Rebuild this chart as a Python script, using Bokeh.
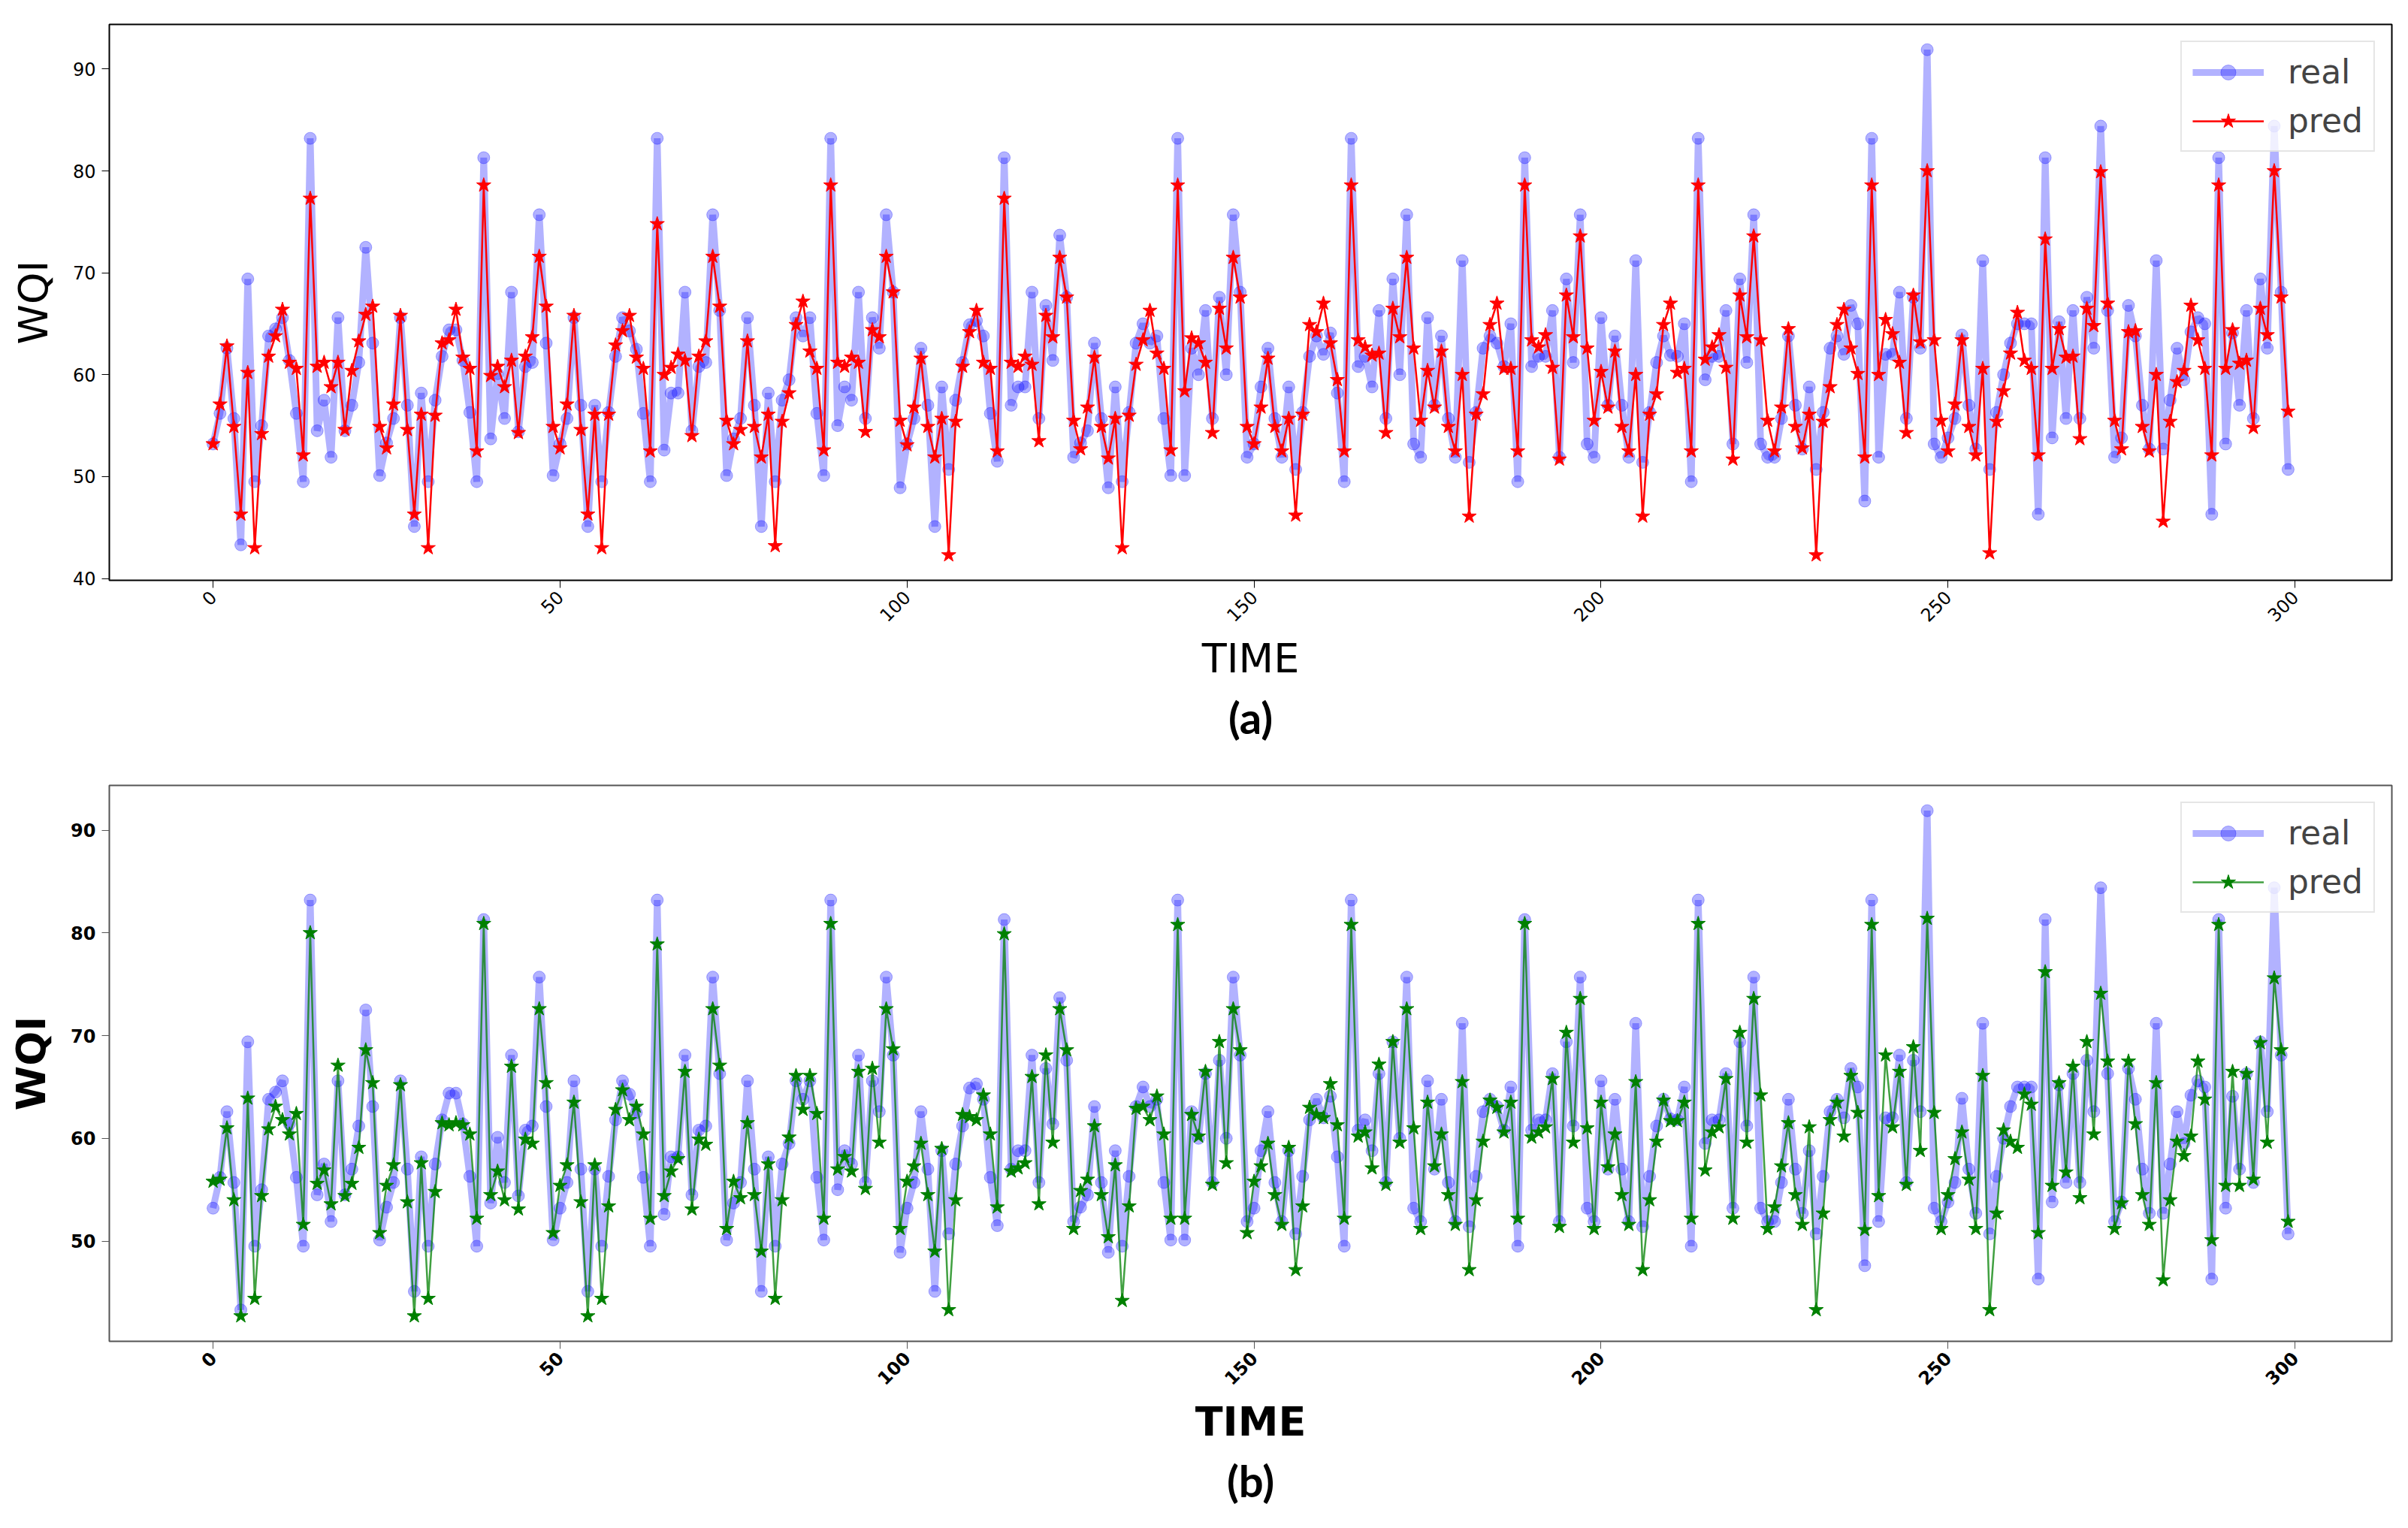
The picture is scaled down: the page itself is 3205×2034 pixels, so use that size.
import math
from bokeh.plotting import figure
from bokeh.layouts import column
from bokeh.models import Range1d, Title, Legend, LegendItem
from bokeh.embed import file_html
from bokeh.resources import INLINE

# data
time = list(range(300))
real = [53.2, 56.2, 62.6, 55.7, 43.3, 69.4, 49.5, 55.0, 63.8, 64.5, 65.6, 61.4, 56.2, 49.5, 83.2,
        54.5, 57.5, 51.9, 65.6, 54.5, 57.0, 61.2, 72.5, 63.1, 50.1, 53.3, 55.7, 65.6, 57.0, 45.1,
        58.2, 49.5, 57.5, 61.8, 64.4, 64.4, 61.4, 56.3, 49.5, 81.3, 53.7, 60.1, 55.7, 68.1, 54.4,
        60.8, 61.2, 75.7, 63.1, 50.1, 53.2, 55.7, 65.6, 57.0, 45.1, 57.0, 49.5, 56.3, 61.8, 65.6,
        64.3, 62.5, 56.2, 49.5, 83.2, 52.6, 58.2, 58.2, 68.1, 54.5, 60.8, 61.2, 75.7, 66.3, 50.1,
        53.7, 55.7, 65.6, 57.0, 45.1, 58.2, 49.5, 57.5, 59.5, 65.6, 63.8, 65.6, 56.2, 50.1, 83.2,
        55.0, 58.8, 57.5, 68.1, 55.7, 65.6, 62.6, 75.7, 68.1, 48.9, 53.2, 55.7, 62.6, 57.0, 45.1,
        58.8, 50.7, 57.5, 61.2, 64.9, 65.3, 63.8, 56.2, 51.5, 81.3, 57.0, 58.8, 58.8, 68.1, 55.7,
        66.8, 61.4, 73.7, 67.6, 51.9, 53.3, 54.5, 63.1, 55.7, 48.9, 58.8, 49.5, 56.3, 63.1, 65.0,
        63.1, 63.8, 55.7, 50.1, 83.2, 50.1, 62.6, 60.0, 66.3, 55.7, 67.6, 60.0, 75.7, 68.1, 51.9,
        53.2, 58.8, 62.6, 55.7, 51.9, 58.8, 50.7, 56.3, 61.8, 63.8, 62.0, 64.1, 58.2, 49.5, 83.2,
        60.8, 61.8, 58.8, 66.3, 55.7, 69.4, 60.0, 75.7, 53.2, 51.9, 65.6, 57.0, 63.8, 55.7, 51.9,
        71.2, 51.4, 56.3, 62.6, 63.8, 63.1, 60.8, 65.0, 49.5, 81.3, 60.8, 61.8, 61.8, 66.3, 51.9,
        69.4, 61.2, 75.7, 53.2, 51.9, 65.6, 57.0, 63.8, 57.0, 51.9, 71.2, 51.4, 56.3, 61.2, 63.8,
        61.9, 61.8, 65.0, 49.5, 83.2, 59.5, 61.8, 61.8, 66.3, 53.2, 69.4, 61.2, 75.7, 53.2, 51.9,
        51.9, 55.7, 63.8, 57.0, 52.7, 58.8, 50.7, 56.3, 62.6, 63.8, 62.0, 66.8, 65.0, 47.6, 83.2,
        51.9, 62.0, 62.0, 68.1, 55.7, 67.6, 62.6, 91.9, 53.2, 51.9, 53.8, 55.7, 63.9, 57.0, 52.7,
        71.2, 50.7, 56.3, 60.0, 63.1, 65.0, 65.0, 65.0, 46.3, 81.3, 53.8, 65.2, 55.7, 66.3, 55.7,
        67.6, 62.6, 84.4, 66.3, 51.9, 53.8, 66.8, 63.8, 57.0, 52.7, 71.2, 52.7, 57.5, 62.6, 59.5,
        64.2, 65.6, 65.0, 46.3, 81.3, 53.2, 64.1, 57.0, 66.3, 55.7, 69.4, 62.6, 84.4, 68.1, 50.7]
pred_a = [53.2, 57.1, 62.8, 54.9, 46.3, 60.2, 43.0, 54.2, 61.8, 63.8, 66.4, 61.2, 60.6, 52.1, 77.3,
          60.8, 61.2, 58.8, 61.2, 54.6, 60.4, 63.3, 65.9, 66.7, 54.9, 52.8, 57.1, 65.8, 54.6, 46.3,
          56.1, 43.0, 56.0, 63.1, 63.4, 66.4, 61.7, 60.6, 52.5, 78.6, 59.9, 60.8, 58.8, 61.4, 54.3,
          61.8, 63.7, 71.6, 66.7, 54.9, 52.8, 57.1, 65.8, 54.6, 46.3, 56.1, 43.0, 56.1, 62.9, 64.3,
          65.8, 61.7, 60.6, 52.5, 74.8, 60.0, 60.7, 62.0, 61.4, 54.0, 61.8, 63.3, 71.6, 66.7, 55.5,
          53.2, 54.6, 63.3, 54.9, 51.9, 56.1, 43.2, 55.4, 58.2, 64.9, 67.2, 62.3, 60.6, 52.6, 78.6,
          61.2, 60.8, 61.7, 61.2, 54.4, 64.4, 63.7, 71.6, 68.1, 55.5, 53.1, 56.8, 61.6, 54.9, 51.9,
          55.7, 42.3, 55.4, 60.8, 64.2, 66.3, 61.2, 60.6, 52.5, 77.3, 61.2, 60.8, 61.8, 61.0, 53.5,
          65.8, 63.7, 71.5, 67.6, 55.5, 52.7, 56.8, 61.7, 54.9, 51.8, 55.7, 43.0, 56.0, 61.0, 63.4,
          66.3, 62.1, 60.6, 52.6, 78.6, 58.4, 63.6, 63.1, 61.2, 54.3, 66.5, 62.6, 71.5, 67.6, 54.9,
          53.2, 56.8, 61.6, 54.9, 52.5, 55.7, 46.2, 56.1, 64.9, 64.2, 67.0, 63.1, 59.5, 52.5, 78.6,
          63.4, 62.7, 61.9, 62.1, 54.3, 66.5, 63.7, 71.5, 62.6, 55.5, 60.4, 56.8, 62.3, 54.9, 52.5,
          60.0, 46.1, 56.1, 58.1, 64.9, 67.0, 60.6, 60.6, 52.5, 78.6, 63.4, 62.7, 63.9, 60.7, 51.7,
          67.8, 63.7, 73.6, 62.6, 55.5, 60.3, 56.8, 62.3, 54.9, 52.5, 60.0, 46.1, 56.1, 58.1, 64.9,
          67.0, 60.2, 60.6, 52.5, 78.6, 61.5, 62.7, 63.9, 60.7, 51.7, 67.8, 63.7, 73.6, 63.4, 55.5,
          52.5, 56.8, 64.5, 54.9, 52.8, 56.1, 42.3, 55.4, 58.8, 64.9, 66.4, 62.6, 60.1, 51.9, 78.6,
          60.0, 65.4, 64.0, 61.2, 54.3, 67.8, 63.2, 80.0, 63.4, 55.5, 52.5, 57.1, 63.4, 54.9, 52.1,
          60.6, 42.5, 55.4, 58.4, 62.1, 66.1, 61.4, 60.6, 52.1, 73.3, 60.6, 64.5, 61.7, 61.8, 53.7,
          66.5, 64.8, 79.9, 67.0, 55.5, 52.7, 64.2, 64.3, 54.9, 52.5, 60.0, 45.6, 55.4, 59.3, 60.4,
          66.8, 63.4, 60.6, 52.1, 78.6, 60.6, 64.4, 61.1, 61.4, 54.8, 66.5, 63.9, 80.0, 67.6, 56.4]
pred_b = [55.8, 56.0, 61.0, 54.0, 42.7, 63.9, 44.4, 54.4, 60.9, 63.1, 61.8, 60.4, 62.4, 51.6, 80.0,
          55.6, 56.9, 53.6, 67.1, 54.4, 55.6, 59.1, 68.6, 65.4, 50.8, 55.4, 57.4, 65.2, 53.8, 42.7,
          57.6, 44.4, 54.8, 61.5, 61.3, 61.5, 61.3, 60.4, 52.2, 80.9, 54.5, 56.8, 54.0, 67.0, 53.1,
          59.9, 59.5, 72.6, 65.4, 50.8, 55.4, 57.4, 63.5, 53.8, 42.7, 57.4, 44.4, 53.4, 62.8, 64.7,
          61.8, 63.1, 60.4, 52.2, 78.9, 54.4, 56.8, 58.0, 66.5, 53.1, 59.9, 59.4, 72.6, 67.1, 51.2,
          55.8, 54.2, 61.5, 54.5, 49.0, 57.5, 44.4, 54.0, 60.1, 66.1, 62.8, 66.1, 62.4, 52.2, 80.9,
          57.0, 58.2, 56.8, 66.5, 55.1, 66.8, 59.6, 72.6, 68.7, 51.2, 55.8, 57.3, 59.5, 54.5, 49.0,
          59.0, 43.3, 54.0, 62.3, 62.1, 61.8, 64.2, 60.4, 53.3, 79.9, 56.8, 57.1, 57.6, 66.0, 53.6,
          68.1, 59.6, 72.6, 68.6, 51.2, 54.9, 56.0, 61.2, 54.5, 50.4, 57.4, 44.2, 53.4, 62.9, 63.1,
          61.8, 64.1, 60.4, 52.2, 80.8, 52.2, 62.3, 60.2, 66.5, 55.5, 69.4, 57.6, 72.6, 68.6, 50.8,
          55.8, 57.3, 59.5, 54.5, 51.6, 59.1, 47.2, 53.4, 63.0, 62.3, 62.0, 65.3, 61.3, 52.2, 80.8,
          60.2, 60.6, 57.1, 67.2, 55.5, 69.4, 59.6, 72.6, 61.0, 51.2, 63.5, 57.3, 60.4, 54.5, 51.6,
          65.5, 47.2, 54.0, 59.7, 63.7, 63.0, 60.6, 63.5, 52.2, 80.9, 60.1, 60.6, 61.1, 65.8, 51.4,
          70.3, 59.6, 73.6, 61.0, 51.2, 63.5, 57.2, 60.4, 54.5, 51.6, 65.5, 47.2, 54.0, 59.7, 63.7,
          61.7, 61.7, 63.5, 52.2, 80.9, 56.9, 60.6, 61.1, 65.8, 52.2, 70.3, 59.6, 73.6, 64.2, 51.2,
          53.3, 57.3, 61.5, 54.5, 51.6, 61.1, 43.3, 52.7, 61.8, 63.5, 60.2, 66.1, 62.5, 51.1, 80.8,
          54.4, 68.1, 61.1, 66.5, 55.5, 68.9, 58.8, 81.4, 62.5, 51.2, 54.5, 58.0, 60.6, 56.0, 51.2,
          66.1, 43.3, 52.7, 60.8, 59.7, 59.1, 64.3, 63.3, 50.8, 76.2, 55.4, 65.4, 56.7, 67.0, 54.2,
          69.4, 60.4, 74.1, 67.5, 51.2, 53.7, 67.5, 61.4, 54.5, 51.6, 65.4, 46.2, 54.0, 59.7, 58.3,
          60.2, 67.5, 63.8, 50.1, 80.8, 55.4, 66.5, 55.4, 66.3, 56.0, 69.3, 59.6, 75.6, 68.6, 51.9]
x_ticks = [0, 50, 100, 150, 200, 250, 300]
y_ticks = [40, 50, 60, 70, 80, 90]


def panel(pred, color, pred_alpha, tag, bold, frame_color, left, top, bottom, height):
    lo = min(min(real), min(pred))
    hi = max(max(real), max(pred))
    pad = (hi - lo) * 0.05
    xpad = (time[-1] - time[0]) * 0.05
    p = figure(width=3200, height=height,
               x_range=Range1d(time[0] - xpad, time[-1] + xpad),
               y_range=Range1d(lo - pad, hi + pad),
               min_border_left=left, min_border_right=17,
               min_border_top=top, min_border_bottom=bottom,
               output_backend="svg", toolbar_location=None)
    r1 = p.line(time, real, line_color="blue", line_alpha=0.3, line_width=9)
    r2 = p.scatter(time, real, marker="circle", size=16, fill_color="blue", fill_alpha=0.3,
                   line_color="blue", line_alpha=0.3)
    r3 = p.line(time, pred, line_color=color, line_alpha=pred_alpha, line_width=2.5)
    r4 = p.scatter(time, pred, marker="star", size=20, fill_color=color, line_color=color)

    weight = "bold" if bold else "normal"
    p.grid.visible = False
    p.outline_line_color = frame_color
    p.outline_line_width = 2
    p.axis.axis_line_color = None
    p.axis.major_tick_out = 10
    p.axis.major_tick_in = 0
    p.axis.minor_tick_out = 0
    p.axis.minor_tick_in = 0
    p.axis.major_tick_line_color = frame_color
    p.axis.major_label_text_font = "DejaVu Sans"
    p.axis.major_label_text_font_size = "24px"
    p.axis.major_label_text_font_style = weight
    p.axis.major_label_text_color = "black"
    p.axis.major_label_standoff = 8
    p.axis.axis_label_text_font = "DejaVu Sans"
    p.axis.axis_label_text_font_size = "54px"
    p.axis.axis_label_text_font_style = weight
    p.axis.axis_label_text_color = "black"
    p.axis.axis_label_standoff = 6
    p.yaxis.axis_label_standoff = 18
    p.xaxis.ticker = x_ticks
    p.yaxis.ticker = [t for t in y_ticks if t >= lo - pad]
    p.xaxis.major_label_orientation = math.pi / 4
    p.xaxis.axis_label = "TIME"
    p.yaxis.axis_label = "WQI"

    p.add_layout(Title(text=tag, align="center", text_font="Lato", text_font_size="58px",
                       text_font_style="bold", text_color="black", standoff=14), "below")

    legend = Legend(items=[LegendItem(label="real", renderers=[r1, r2]),
                           LegendItem(label="pred", renderers=[r3, r4])],
                    location="top_right", margin=22, padding=14, spacing=14,
                    glyph_width=95, glyph_height=50, label_standoff=32,
                    label_text_font="DejaVu Sans", label_text_font_size="44px",
                    border_line_color="#cccccc", border_line_width=2,
                    background_fill_alpha=0.8)
    p.add_layout(legend)
    return p


fig_a = panel(pred_a, "red", 1.0, "(a)", False, "black", 145, 32, 228, 1000)
fig_b = panel(pred_b, "green", 0.75, "(b)", True, "#555555", 139, 45, 245, 1030)

page = column(fig_a, fig_b, spacing=0)
open("out.html", "w").write(file_html(page, INLINE))
